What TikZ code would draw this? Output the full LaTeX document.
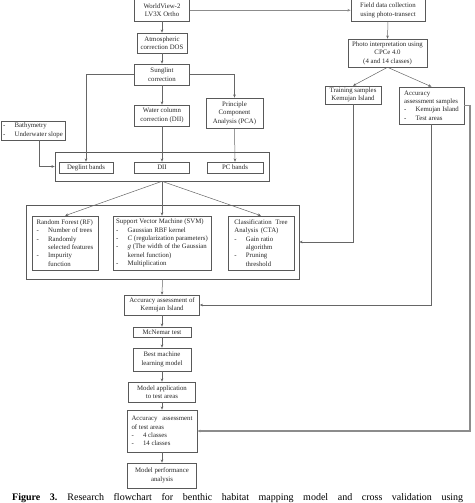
\documentclass[tikz,border=0pt]{standalone}
\usepackage{fontspec}
\setmainfont{Liberation Serif}
\usetikzlibrary{arrows.meta,calc}
\newcommand\fsz{\fontsize{6.8}{8.4}\selectfont}
\newcommand\itm[1]{\makebox[11.5pt][l]{-}#1}
\newcommand\cnt[1]{\hspace*{11.5pt}#1}
% box: name, x1, y1, x2, y2, options, text
\newcommand\bx[7]{\node[box,ctr,#6,minimum width={(#4-#2)*1pt},minimum height={(#5-#3)*1pt}] (#1) at ({(#2+#4)/2},{(#3+#5)/2}) {#7};}
\begin{document}
\begin{tikzpicture}[x=1pt,y=-1pt,
  box/.style={draw=black!65, line width=0.6pt, inner sep=0pt, font=\fsz, text=black!85},
  ctr/.style={align=center},
  lft/.style={align=left},
  tip/.style={-{Stealth[length=3.2pt,width=2.6pt]}},
  conn/.style={draw=black!60, line width=0.5pt, tip},
  heavy/.style={draw=black!45, line width=1.1pt, tip}]
\useasboundingbox (0,0) rectangle (474,503);
% left / centre column
\bx{wv}{134.5}{-0.5}{189.5}{21}{}{WorldView-2\\LV3X Ortho}
\bx{atm}{137}{33}{187}{53}{}{Atmospheric\\correction DOS}
\bx{sun}{134.5}{64}{189.5}{85}{}{Sunglint\\correction}
\bx{wc}{134.5}{105}{189.5}{126}{}{Water column\\correction (DII)}
\bx{pca}{206}{98}{263}{128}{}{Principle\\Component\\Analysis (PCA)}
\bx{bathy}{1}{121}{65}{140}{lft}{\itm{Bathymetry}\\\itm{Underwater slope}}
\bx{bands}{55}{152}{269}{181}{}{}
\bx{deglint}{59}{162}{113}{173}{}{Deglint bands}
\bx{dii}{134.5}{162}{189.5}{173}{}{DII}
\bx{pcb}{207}{162}{263}{173}{}{PC bands}
\bx{ml}{26}{205}{299}{279}{}{}
\bx{rf}{32}{216}{98}{270}{lft}{Random Forest (RF)\\\itm{Number of trees}\\\itm{Randomly}\\\cnt{selected features}\\\itm{Impurity}\\\cnt{function}}
\bx{svm}{113}{216}{211}{270}{lft}{Support Vector Machine (SVM)\\\itm{Gaussian RBF kernel}\\\itm{\textit{C} (regularization parameters)}\\\itm{\textit{g} (The width of the Gaussian}\\\cnt{kernel function)}\\\itm{Multiplication}}
\bx{cta}{228}{216}{294}{270}{lft}{Classification\hspace{2pt} Tree\\Analysis\hspace{1pt} (CTA)\\\itm{Gain ratio}\\\cnt{algorithm}\\\itm{Pruning}\\\cnt{threshold}}
\bx{accK}{124.5}{295}{199.5}{315}{}{Accuracy assessment of\\Kemujan Island}
\bx{mcn}{133}{327}{191}{337}{}{McNemar test}
\bx{best}{133}{348}{191}{371}{}{Best machine\\learning model}
\bx{apply}{128.5}{382}{195.5}{402}{}{Model application\\to test areas}
\bx{acct}{127}{410}{197}{452}{lft}{Accuracy\hspace{3pt} assessment\\of test areas\\\itm{4 classes}\\\itm{14 classes}}
\bx{perf}{127.5}{463}{196.5}{488}{}{Model performance\\analysis}
% right column
\bx{field}{351}{-0.5}{425}{21}{}{Field data collection\\using photo-transect}
\bx{photo}{348}{39}{427}{67}{}{Photo interpretation using\\CPCe 4.0\\(4 and 14 classes)}
\bx{train}{325}{86}{381}{104}{}{Training samples\\Kemujan Island}
\bx{accs}{399}{87}{464}{124}{lft}{Accuracy\\assessment samples\\\itm{Kemujan Island}\\\itm{Test areas}}
\coordinate (rc) at (470,0);
% connectors
\draw[heavy] (wv.east) -- (field.west);
\draw[conn] (wv.south) -- (atm.north);
\draw[conn] (atm.south) -- (sun.north);
\draw[conn] (sun.south) -- (wc.north);
\draw[conn] (sun.west) -| (deglint.north);
\draw[conn] (sun.east) -| (pca.north);
\draw[conn] (wc.south) -- (dii.north);
\draw[conn] (pca.south) -- (pcb.north);
\draw[conn] ($(bathy.south)+(6,0)$) |- (bands.west);
\draw[conn] (bands.south) -- (rf.north);
\draw[conn] (bands.south) -- (svm.north);
\draw[conn] (bands.south) -- (cta.north);
\draw[conn] (ml.south) -- (accK.north);
\draw[conn] (accK.south) -- (mcn.north);
\draw[conn] (mcn.south) -- (best.north);
\draw[conn] (best.south) -- (apply.north);
\draw[conn] (apply.south) -- (acct.north);
\draw[conn] (acct.south) -- (perf.north);
\draw[conn] (field.south) -- (photo.north);
\draw[conn] (photo.south) -- (train.north);
\draw[conn] (photo.south) -- (accs.north);
\draw[conn] (train.south) |- (ml.east);
\draw[conn] (accs.south) |- (accK.east);
\draw[heavy] (accs.east) -- (accs.east -| rc) -- (rc |- acct.east) -- (acct.east);
% caption
\node[anchor=base west, inner sep=0pt, font=\fontsize{10}{12}\selectfont] (cap) at (12,500)
  {\makebox[451pt][s]{\textbf{Figure 3.}\hspace{10pt}Research flowchart for benthic habitat mapping model and cross validation using}};
\end{tikzpicture}
\end{document}
